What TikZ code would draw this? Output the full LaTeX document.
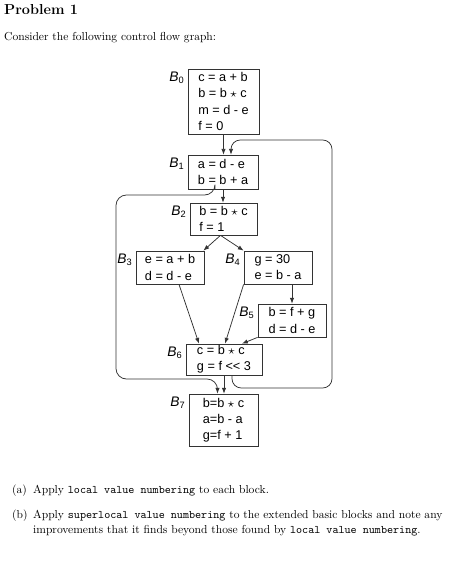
\documentclass[tikz,border=0pt]{standalone}
\usepackage{fontspec}
\newfontfamily\cfgfont{Liberation Sans}
\usetikzlibrary{arrows.meta,calc}
\newcommand{\blab}[1]{{\cfgfont\fontsize{12}{14}\selectfont\itshape B\textsubscript{\upshape#1}}}
\begin{document}
\begin{tikzpicture}[x=0.866pt,y=-0.866pt,
  blk/.style 2 args={draw=black!80,line width=0.65pt,minimum width=#1,minimum height=#2,inner sep=0pt,align=left,font=\cfgfont\fontsize{11}{14}\selectfont},
  lbl/.style={anchor=east,inner sep=0pt},
  txt/.style={anchor=base west,inner sep=0pt,font=\fontsize{10}{12}\selectfont},
  flow/.style={draw=black!80,line width=0.65pt,-{Latex[length=5pt,width=3.8pt]}}]
\useasboundingbox (0,0) rectangle (474,562);
\node[txt,font=\fontsize{12.5}{15}\selectfont\bfseries] (title) at (4,15) {Problem 1};
\node[txt] (intro) at (4,41) {Consider the following control flow graph:};

\node[blk={61.5pt}{56.3pt}] (b0) at (223.5,101.5) {c = a + b\\ b = b $\star$ c\\ m = d - e\\ f = 0};
\node[blk={60.6pt}{29.4pt}] (b1) at (223,172) {a = d - e\\ b = b + a};
\node[blk={58pt}{27.7pt}] (b2) at (223.5,219) {b = b $\star$ c\\ f = 1};
\node[blk={58.9pt}{28.6pt}] (b3) at (170,267.5) {e = a + b\\ d = d - e};
\node[blk={58.9pt}{28.6pt}] (b4) at (278,267.5) {g = 30\\ e = b - a};
\node[blk={58.9pt}{28.6pt}] (b5) at (292,320.5) {b = f + g\\ d = d - e};
\node[blk={65.8pt}{26.8pt}] (b6) at (224,359.5) {c = b $\star$ c\\ g = f << 3};
\node[blk={59.8pt}{45pt}] (b7) at (223.5,420) {b=b $\star$ c\\ a=b - a\\ g=f + 1};

\node[lbl] (l0) at ($(b0.north west)+(-3,9)$) {\blab{0}};
\node[lbl] (l1) at ($(b1.north west)+(-3,9)$) {\blab{1}};
\node[lbl] (l2) at ($(b2.north west)+(-3,9)$) {\blab{2}};
\node[lbl] (l3) at ($(b3.north west)+(-3,9)$) {\blab{3}};
\node[lbl] (l4) at ($(b4.north west)+(-3,9)$) {\blab{4}};
\node[lbl] (l5) at ($(b5.north west)+(-3,9)$) {\blab{5}};
\node[lbl] (l6) at ($(b6.north west)+(-3,9)$) {\blab{6}};
\node[lbl] (l7) at ($(b7.north west)+(-3,9)$) {\blab{7}};

\coordinate (r1) at (332,388);
\coordinate (r2) at (332,140);
\coordinate (k1) at (116,195);
\coordinate (k2) at (116,379);

\draw[flow] (b0.south) -- (b0.south |- b1.north);
\draw[flow] (b1.south) -- (b1.south |- b2.north);
\draw[flow,rounded corners=9] ([shift={(-8,0)}]b1.south) |- (k1) -- (k2) -| ([shift={(-6,0)}]b7.north);
\draw[flow] ([shift={(-3,0)}]b2.south) -- ([shift={(-1,0)}]b3.north east);
\draw[flow] ([shift={(-3,0)}]b2.south) -- (b4.north west);
\draw[flow] ([shift={(9,0)}]b3.south) -- ([shift={(-25,0)}]b6.north);
\draw[flow] (b4.south west) -- ([shift={(1,0)}]b6.north);
\draw[flow] ([shift={(14,0)}]b4.south) -- (b5.north);
\draw[flow] (b5.south west) -- ([shift={(18,0)}]b6.north);
\draw[flow] (b6.south) -- (b6.south |- b7.north);
\draw[flow,rounded corners=8] ([shift={(8,0)}]b6.south) |- (r1) -- (r2) -| ([shift={(8,0)}]b1.north);

\node[txt] (qa) at (12,493) {(a)};
\node[txt] (qatext) at (33,493) {Apply \texttt{local value numbering} to each block.};
\node[txt] (qb) at (12,518) {(b)};
\node[txt] (qbtext) at (33,518) {Apply \texttt{superlocal value numbering} to the extended basic blocks and note any};
\node[txt] (qbmore) at (33,533) {improvements that it finds beyond those found by \texttt{local value numbering}.};
\end{tikzpicture}
\end{document}
